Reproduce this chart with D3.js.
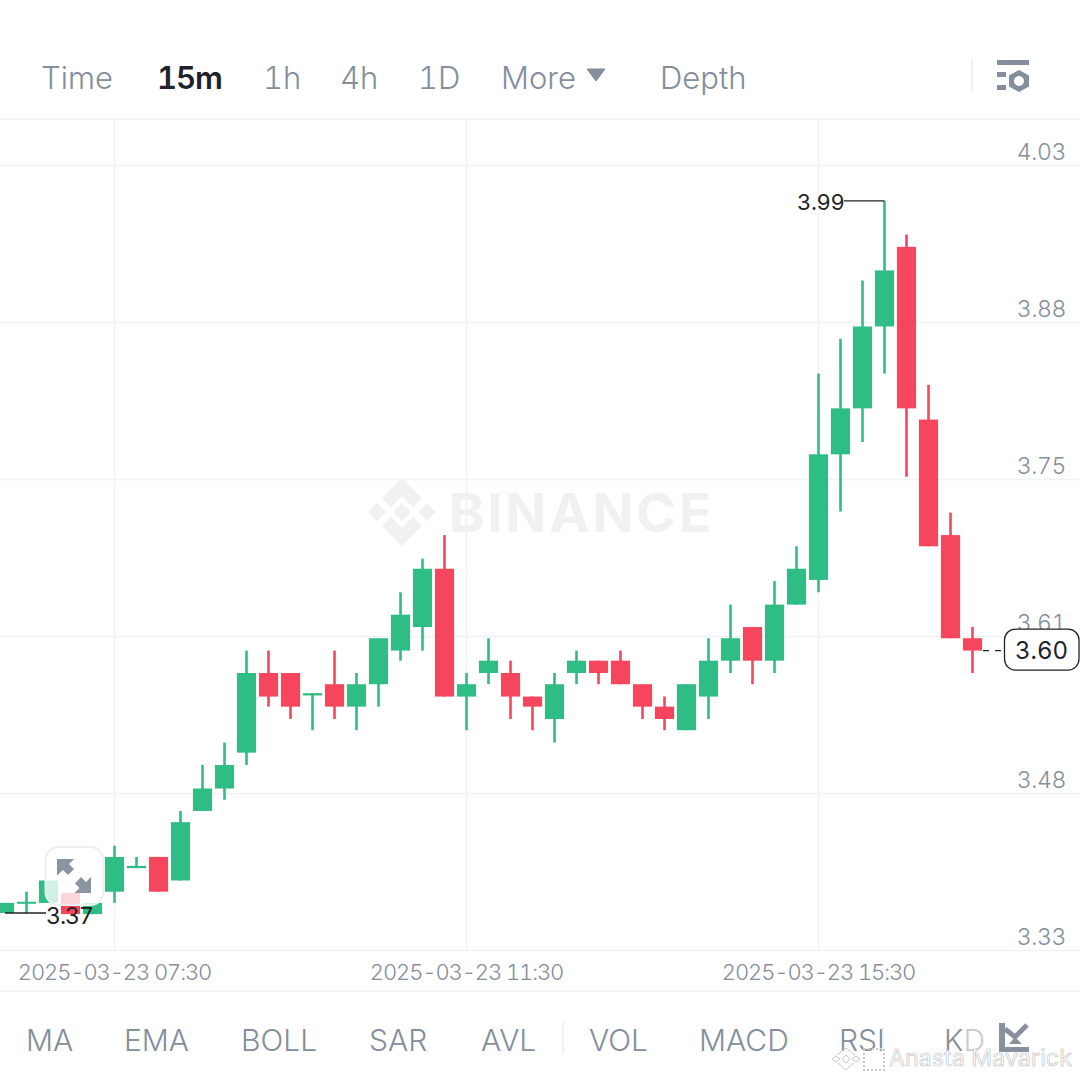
<!DOCTYPE html>
<html>
<head>
<meta charset="utf-8">
<script src="https://cdn.jsdelivr.net/npm/d3@7"></script>
<style>
  html, body { margin: 0; padding: 0; background: #fff; }
  svg { display: block; }
  text { font-family: Inter, Roboto, sans-serif; font-variant-numeric: tabular-nums; }
</style>
</head>
<body>
<div id="chart"></div>
<script>
// 15m candles
const times = ['06:15','06:30','06:45','07:00','07:15','07:30','07:45','08:00','08:15','08:30','08:45','09:00','09:15','09:30','09:45','10:00','10:15','10:30','10:45','11:00','11:15','11:30','11:45','12:00','12:15','12:30','12:45','13:00','13:15','13:30','13:45','14:00','14:15','14:30','14:45','15:00','15:15','15:30','15:45','16:00','16:15','16:30','16:45','17:00','17:15'];
const opens = [3.363,3.372,3.372,3.381,3.362,3.382,3.403,3.413,3.392,3.454,3.474,3.506,3.577,3.577,3.557,3.567,3.547,3.567,3.597,3.618,3.670,3.556,3.577,3.577,3.556,3.536,3.577,3.588,3.588,3.567,3.547,3.526,3.556,3.588,3.618,3.588,3.638,3.660,3.772,3.813,3.886,3.957,3.803,3.700,3.608];
const closes = [3.372,3.373,3.392,3.362,3.372,3.413,3.405,3.382,3.444,3.474,3.495,3.577,3.556,3.547,3.559,3.547,3.567,3.608,3.629,3.670,3.556,3.567,3.588,3.556,3.547,3.567,3.588,3.577,3.567,3.547,3.536,3.567,3.588,3.608,3.588,3.638,3.670,3.772,3.813,3.886,3.936,3.813,3.690,3.608,3.597];
const highs = [3.372,3.382,3.392,3.381,3.372,3.423,3.413,3.413,3.454,3.495,3.515,3.597,3.597,3.577,3.559,3.597,3.577,3.608,3.649,3.679,3.700,3.577,3.608,3.588,3.556,3.577,3.597,3.588,3.597,3.567,3.556,3.567,3.608,3.638,3.618,3.659,3.690,3.844,3.875,3.927,3.998,3.968,3.834,3.720,3.618];
const lows = [3.363,3.363,3.372,3.362,3.362,3.372,3.403,3.382,3.392,3.454,3.464,3.495,3.547,3.536,3.526,3.536,3.526,3.547,3.588,3.597,3.556,3.526,3.567,3.536,3.526,3.515,3.567,3.567,3.567,3.536,3.526,3.526,3.536,3.577,3.567,3.577,3.638,3.649,3.721,3.783,3.844,3.752,3.690,3.608,3.577];

const priceTicks = [4.03, 3.89, 3.75, 3.61, 3.47, 3.33];
const priceLabels = ['4.03', '3.88', '3.75', '3.61', '3.48', '3.33'];
const timeTicks = ['07:30', '11:30', '15:30'];
const topTabs = ['Time', '15m', '1h', '4h', '1D', 'More', 'Depth'];
const bottomTabs = ['MA', 'EMA', 'BOLL', 'SAR', 'AVL', 'VOL', 'MACD', 'RSI', 'KD'];
const lastPrice = 3.597;
const DAY = '2025-03-23 ';

const GREEN = '#2ebd85', RED = '#f6465d', GREY = '#848e9c', DARK = '#1e2329', LINE = '#f0f2f4';

const parse = d3.timeParse('%Y-%m-%d %H:%M');
const candles = times.map((t, i) => ({ time: parse(DAY + t), o: opens[i], c: closes[i], h: highs[i], l: lows[i] }));

const x = d3.scaleTime().domain([parse(DAY + '07:30'), parse(DAY + '15:30')]).range([114, 818]);
const y = d3.scaleLinear().domain([3.33, 4.03]).range([950, 165]);

const svg = d3.select('#chart').append('svg').attr('width', 1080).attr('height', 1080);

// header
const topX = [41, 157, 263, 340, 418, 501, 660];
svg.append('g').selectAll('text').data(topTabs).join('text')
  .attr('x', (d, i) => topX[i])
  .attr('y', 89)
  .attr('font-size', 31)
  .attr('font-weight', d => d === '15m' ? 600 : 350)
  .attr('letter-spacing', d => d === '15m' ? -1 : 0)
  .attr('fill', d => d === '15m' ? DARK : GREY)
  .text(d => d);
svg.append('path').attr('d', 'M587 69H605L596 81Z').attr('fill', GREY).attr('stroke', GREY).attr('stroke-width', 1).attr('stroke-linejoin', 'round');
svg.append('rect').attr('x', 971).attr('y', 59).attr('width', 2).attr('height', 33).attr('fill', LINE);
svg.append('path').attr('fill', GREY).attr('fill-rule', 'evenodd')
  .attr('d', 'M997 60H1029V65H997ZM997 72H1006V77H997ZM997 85H1006V90H997ZM1019 70L1029 75.5V86.5L1019 92L1009 86.5V75.5ZM1019 76a5 5 0 1 0 .01 0Z');

// frame lines
svg.append('line').attr('x1', 0).attr('x2', 1080).attr('y1', 119).attr('y2', 119).attr('stroke', LINE).attr('stroke-width', 1.6);
svg.append('line').attr('x1', 0).attr('x2', 1080).attr('y1', 991).attr('y2', 991).attr('stroke', LINE).attr('stroke-width', 1.6);

// watermark
const wm = svg.append('g').attr('fill', '#f0f1f2');
wm.append('path').attr('d', 'M402 478L422 498L413 507L402 496L391 507L382 498Z M402 546L382 526L391 517L402 528L413 517L422 526Z M402 503L411 512L402 521L393 512Z M377 503L386 512L377 521L368 512Z M427 503L436 512L427 521L418 512Z');
wm.append('text').attr('x', 449).attr('y', 532).attr('font-size', 54).attr('font-weight', 700).attr('letter-spacing', 2.7).text('BINANCE');

// grid + axes
const yAxis = d3.axisRight(y).tickValues(priceTicks).tickSize(1080).tickFormat((d, i) => priceLabels[i]);
const yG = svg.append('g').call(yAxis);
yG.select('.domain').remove();
yG.selectAll('line').attr('stroke', LINE).attr('stroke-width', 1.6);
yG.selectAll('text').attr('x', 1066).attr('dy', -6).attr('text-anchor', 'end').attr('font-size', 23).attr('font-weight', 350).attr('letter-spacing', -0.4).attr('fill', GREY).style('font-family', 'Inter, Roboto, sans-serif');

const xAxis = d3.axisBottom(x).tickValues(timeTicks.map(t => parse(DAY + t))).tickSize(-831).tickFormat(d3.timeFormat('%Y-%m-%d %H:%M'));
const xG = svg.append('g').attr('transform', 'translate(0,950)').call(xAxis);
xG.select('.domain').remove();
xG.selectAll('line').attr('stroke', LINE).attr('stroke-width', 1.6);
xG.selectAll('text').attr('y', 30).attr('dy', 0).attr('font-size', 22).attr('font-weight', 350).attr('letter-spacing', -1.1).attr('fill', GREY).style('font-family', 'Inter, Roboto, sans-serif');

// candles
const colour = d => d.c >= d.o ? GREEN : RED;
const cx = d => x(d.time) + 0.5;
const marks = svg.append('g').selectAll('g').data(candles).join('g');
marks.append('line')
  .attr('x1', cx).attr('x2', cx)
  .attr('y1', d => y(d.h)).attr('y2', d => y(d.l))
  .attr('stroke', colour).attr('stroke-width', 2.6);
marks.append('rect')
  .attr('x', d => cx(d) - 9.6).attr('width', 19.2)
  .attr('y', d => y(Math.max(d.o, d.c)))
  .attr('height', d => Math.max(2, Math.abs(y(d.o) - y(d.c))))
  .attr('fill', colour);

// high / low markers
const hi = candles[40], lo = candles[0];
svg.append('line').attr('x1', 844).attr('x2', cx(hi)).attr('y1', y(hi.h)).attr('y2', y(hi.h)).attr('stroke', DARK).attr('stroke-width', 1.3);
svg.append('text').attr('x', 797).attr('y', y(hi.h) + 9).attr('font-size', 22).attr('letter-spacing', -0.3).attr('fill', DARK).text('3.99');

// expand button sits over the first candles
svg.append('rect').attr('x', 45.5).attr('y', 847).attr('width', 58).attr('height', 58).attr('rx', 13)
  .attr('fill', 'rgba(255,255,255,0.78)').attr('stroke', '#eceef0').attr('stroke-width', 2);
svg.append('path').attr('fill', '#8d94a1')
  .attr('d', 'M57 859H74L69 864L74 869L68 875L63 870L57 875.5Z M91 893H74.5L79.5 888L75 883.5L81 877L86 882L91 877Z');

svg.append('line').attr('x1', 5).attr('x2', 46).attr('y1', y(lo.l)).attr('y2', y(lo.l)).attr('stroke', DARK).attr('stroke-width', 1.3);
svg.append('text').attr('x', 46).attr('y', y(lo.l) + 11).attr('font-size', 23).attr('letter-spacing', -1).attr('fill', DARK).text('3.37');

// last price tag
svg.append('line').attr('x1', 983).attr('x2', 1004).attr('y1', y(lastPrice)).attr('y2', y(lastPrice))
  .attr('stroke', DARK).attr('stroke-width', 1.3).attr('stroke-dasharray', '6 6');
svg.append('rect').attr('x', 1004.5).attr('y', y(lastPrice) - 21.5).attr('width', 74.5).attr('height', 41).attr('rx', 11)
  .attr('fill', '#fff').attr('stroke', DARK).attr('stroke-width', 1.3);
svg.append('text').attr('x', 1041.5).attr('y', y(lastPrice) + 8.5).attr('text-anchor', 'middle').attr('font-size', 24).attr('fill', DARK).text('3.60');

// indicator tabs
const bottomX = [26, 124, 241, 369, 481, 589, 699, 839, 944];
svg.append('g').selectAll('text').data(bottomTabs).join('text')
  .attr('x', (d, i) => bottomX[i])
  .attr('y', 1051)
  .attr('font-size', 30)
  .attr('font-weight', 350)
  .attr('fill', GREY)
  .text(d => d);
svg.append('rect').attr('x', 562).attr('y', 1022).attr('width', 2).attr('height', 32).attr('fill', LINE);
svg.append('path').attr('fill', '#8a919e')
  .attr('d', 'M999 1023H1005V1047H1029V1052H999Z M1015 1037L1022 1044H1009Z');
svg.append('path').attr('fill', 'none').attr('stroke', '#8a919e').attr('stroke-width', 5)
  .attr('d', 'M1005 1029L1015 1037L1027 1025');

// reposter's mark
svg.append('rect').attr('x', 962).attr('y', 1026).attr('width', 24).attr('height', 28).attr('fill', 'rgba(255,255,255,0.55)');
const stamp = svg.append('g').attr('fill', 'none').attr('stroke', '#c4c8cd').attr('stroke-width', 1);
stamp.append('path').attr('d', 'M837 1055L846 1048L855 1055 M832 1059L836 1056L840 1059L836 1062Z M852 1059L856 1056L860 1059L856 1062Z M846 1055L850 1059L846 1063L842 1059Z M838 1063L846 1070L854 1063');
stamp.append('rect').attr('x', 864).attr('y', 1049).attr('width', 20).attr('height', 21).attr('stroke-dasharray', '2 2').attr('stroke-width', 2);
svg.append('text').attr('x', 889).attr('y', 1066).attr('font-size', 23).attr('letter-spacing', 0.15)
  .attr('fill', '#fff').attr('stroke', '#b9bcc2').attr('stroke-width', 0.6).text('Anasta Mavarick');
</script>
</body>
</html>
